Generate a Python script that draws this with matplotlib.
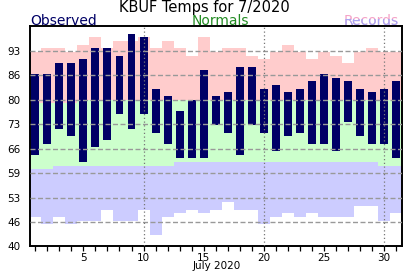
import numpy as np
import matplotlib
matplotlib.use('Agg')
import matplotlib.pyplot as plt
from matplotlib.patches import Rectangle

# KBUF daily temps, July 2020 (deg F)
days = np.arange(1, 32)
obs_high = [87, 87, 90, 90, 91, 94, 94, 92, 98, 97, 83, 81, 77, 80, 88, 81,
            82, 89, 89, 83, 84, 82, 83, 85, 87, 86, 85, 83, 82, 83, 85]
obs_low = [65, 68, 72, 70, 63, 67, 69, 76, 72, 76, 71, 68, 64, 64, 64, 73,
           71, 65, 73, 71, 66, 70, 71, 68, 68, 66, 74, 70, 68, 68, 64]
norm_high = [79, 79, 79, 79, 80, 80, 80, 80, 80, 80, 80, 80, 80, 80, 80, 80,
             80, 80, 80, 80, 80, 80, 80, 80, 80, 80, 80, 80, 80, 80, 80]
norm_low = [61, 61, 62, 62, 62, 62, 62, 62, 62, 62, 62, 62, 63, 63, 63, 63,
            63, 63, 63, 63, 63, 63, 63, 63, 63, 63, 63, 63, 63, 62, 62]
rec_high = [93, 94, 94, 93, 95, 97, 94, 96, 96, 97, 94, 96, 94, 92, 97, 93,
            94, 94, 92, 91, 93, 95, 93, 91, 93, 92, 90, 93, 94, 93, 93]
rec_low = [48, 46, 48, 46, 47, 47, 50, 47, 47, 50, 43, 48, 49, 50, 49, 50,
           52, 50, 50, 46, 48, 49, 48, 49, 48, 48, 48, 51, 51, 47, 49]

ytick_vals = np.linspace(40, 100, 10)[:-1]
ytick_labels = ['40', '46', '53', '59', '66', '73', '80', '86', '93']
xtick_vals = [5, 10, 15, 20, 25, 30]

fig = plt.figure(figsize=(4.12, 2.76), dpi=100)
ax = fig.add_axes([0.074, 0.107, 0.902, 0.797])

nh = np.array(norm_high)
nl = np.array(norm_low)
ax.bar(days, np.array(rec_high) - nh, bottom=nh, width=1.0,
       color='#ffcccc', lw=0, zorder=1)
ax.bar(days, nh - nl, bottom=nl, width=1.0, color='#ccffcc', lw=0, zorder=1)
ax.bar(days, nl - np.array(rec_low), bottom=rec_low, width=1.0,
       color='#ccccff', lw=0, zorder=1)

ax.bar(days, np.array(obs_high) - np.array(obs_low), bottom=obs_low,
       width=0.66, color='#000066', lw=0, zorder=2)

for y in ytick_vals[1:]:
    ax.axhline(y, color='#999999', lw=1, ls=(0, (3.6, 1.8)), zorder=3)
for x in [10, 20, 30]:
    ax.axvline(x, color='#777777', lw=0.9, ls=(0, (1, 2)), zorder=3)

ax.set_xlim(0.6, 31.5)
ax.set_ylim(40, 100)
ax.set_yticks(ytick_vals)
ax.set_yticklabels(ytick_labels)
ax.set_xticks(xtick_vals)
ax.set_xticks(days, minor=True)
ax.tick_params(axis='y', length=0, pad=7, labelsize=7.5)
ax.tick_params(axis='x', which='both', length=3.6, width=0.9, pad=1,
               labelsize=7.5, direction='out')
ax.set_xlabel('July 2020', fontsize=7.5, labelpad=-1)
for s in ax.spines.values():
    s.set_linewidth(1.4)

fig.text(0.497, 0.957, 'KBUF Temps for 7/2020', ha='center', fontsize=10.5,
         color='black')
fig.text(0.073, 0.911, 'Observed', ha='left', fontsize=10, color='#000066')
fig.text(0.535, 0.911, 'Normals', ha='center', fontsize=10, color='#228b22')
fig.text(0.969, 0.911, 'Records', ha='right', fontsize=10, color='#f5a3c7')
t2 = fig.text(0.969, 0.911, 'Records', ha='right', fontsize=10,
              color='#a6a6f5')
t2.set_clip_path(Rectangle((0, 0), 1, 0.932, transform=fig.transFigure))

fig.savefig('out.png', dpi=100)
